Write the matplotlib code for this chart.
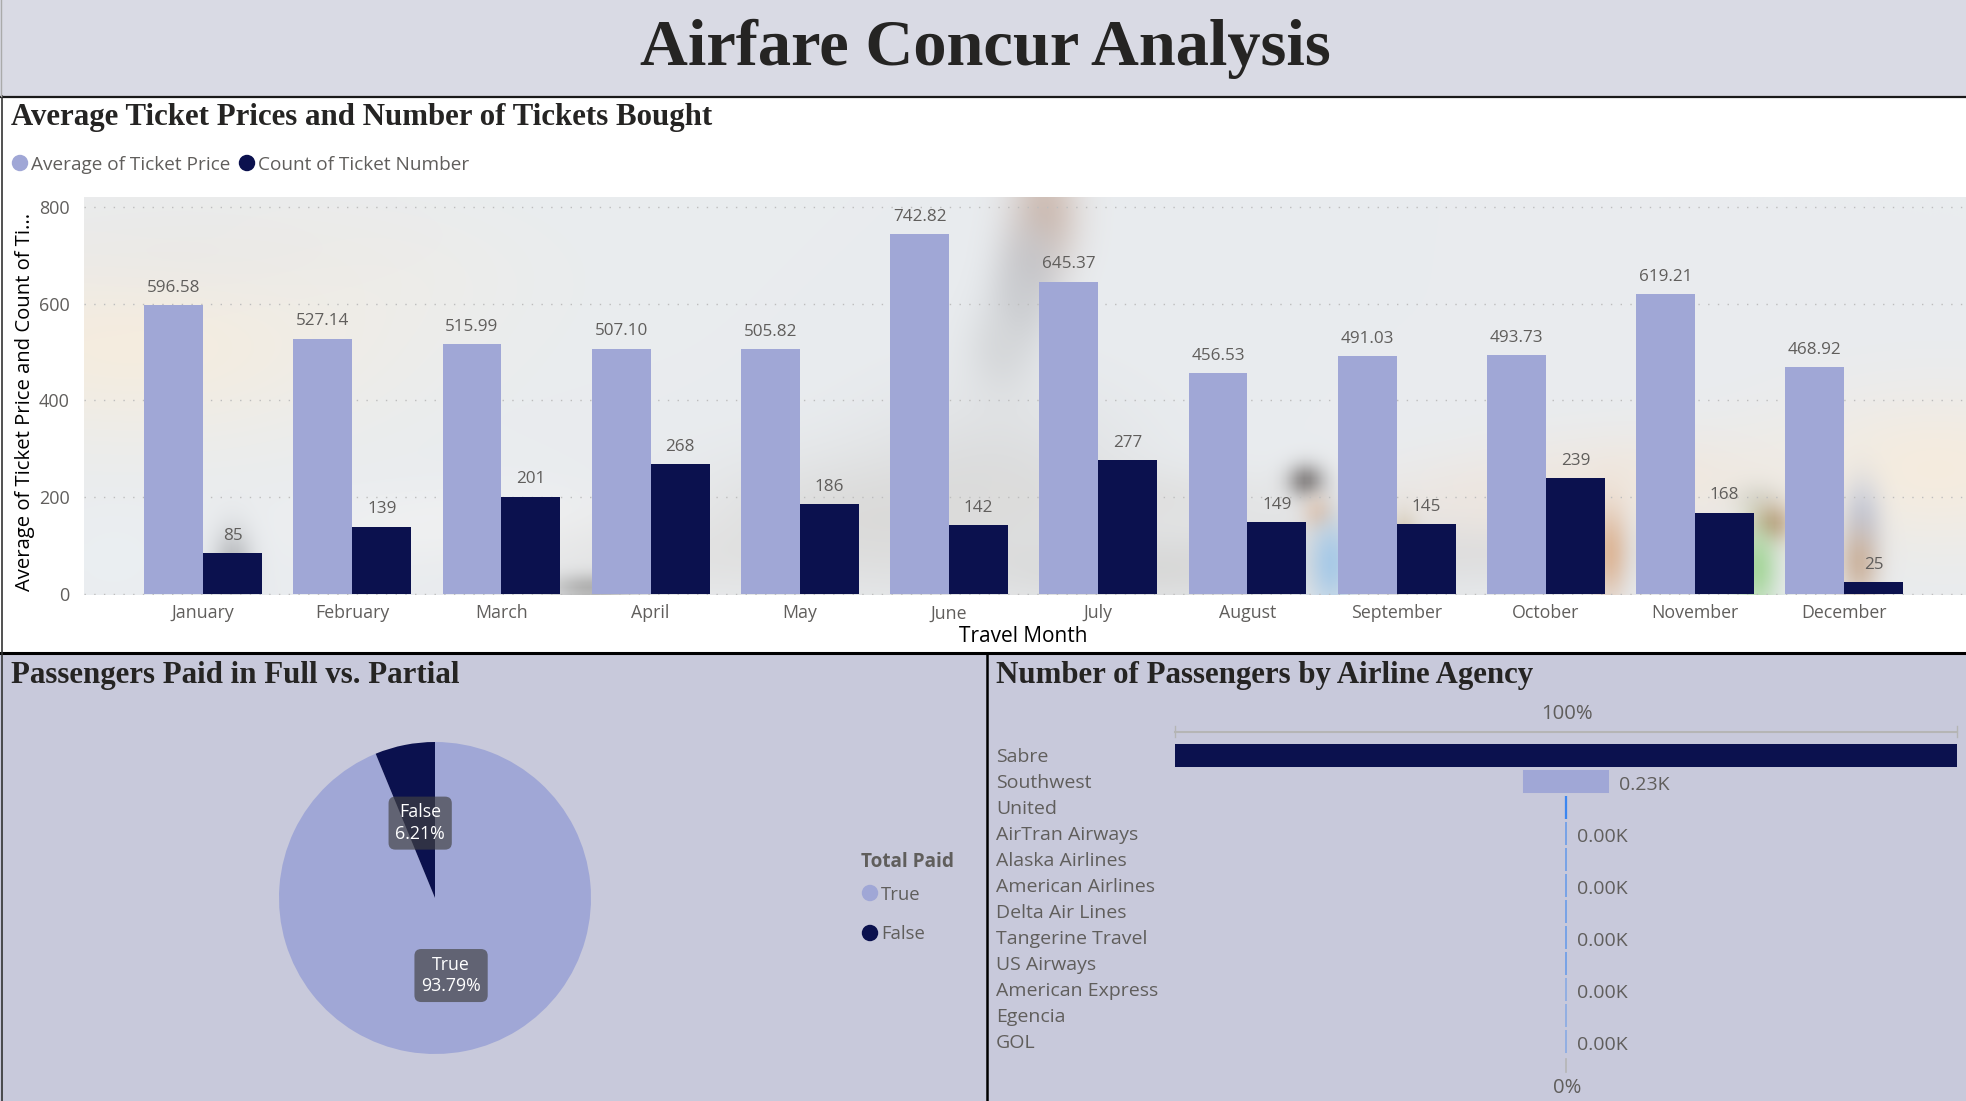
import numpy as np
import matplotlib
matplotlib.use('Agg')
from matplotlib import pyplot as plt
from matplotlib.colors import to_rgb
from matplotlib.patches import Rectangle

W, H = 1966, 1101

months = ['January', 'February', 'March', 'April', 'May', 'June', 'July',
          'August', 'September', 'October', 'November', 'December']
avg_price = [596.58, 527.14, 515.99, 507.10, 505.82, 742.82, 645.37,
             456.53, 491.03, 493.73, 619.21, 468.92]
ticket_count = [85, 139, 201, 268, 186, 142, 277, 149, 145, 239, 168, 25]

paid_labels = ['True', 'False']
paid_share = [93.79, 6.21]

agencies = ['Sabre', 'Southwest', 'United', 'AirTran Airways', 'Alaska Airlines',
            'American Airlines', 'Delta Air Lines', 'Tangerine Travel', 'US Airways',
            'American Express', 'Egencia', 'GOL']
passengers = [2090, 230, 6, 3, 3, 3, 3, 3, 3, 2, 2, 2]
agency_labels = ['', '0.23K', '', '0.00K', '', '0.00K', '', '0.00K', '', '0.00K', '', '0.00K']

LIGHT = '#A0A7D6'
DARK = '#0B114E'
GREY = '#605E5C'
BAND = '#D9DAE4'
PANEL = '#C8C9DB'
INK = '#252423'
SANS = 'Open Sans'
SERIF = 'Liberation Serif'


def axes_px(x0, y0, x1, y1, **kw):
    return fig.add_axes([x0 / W, 1 - y1 / H, (x1 - x0) / W, (y1 - y0) / H], **kw)


def blurred_photo(nx=300, ny=80):
    # rough stand-in for the faded photo behind the bars
    px, py = np.meshgrid(np.linspace(84, 1966, nx), np.linspace(197, 595, ny))
    img = np.ones((ny, nx, 3)) * np.array(to_rgb('#E9ECEF'))
    blobs = [(130, 340, 170, 70, '#F6ECDD', 0.9),
             (330, 270, 130, 50, '#F2EEE6', 0.5),
             (200, 250, 140, 35, '#E6E6E6', 0.4),
             (500, 530, 140, 30, '#F4F4F4', 0.7),
             (680, 560, 130, 30, '#E2E2E2', 0.8),
             (870, 520, 120, 45, '#D9D8D6', 0.8),
             (1000, 470, 90, 60, '#D3D3D3', 0.5),
             (230, 565, 14, 24, '#A5A7AA', 0.7),
             (110, 560, 50, 40, '#ECF0F3', 0.6),
             (590, 590, 30, 10, '#8D8C8A', 0.6),
             (1045, 210, 24, 40, '#CDB9AE', 0.9),
             (1030, 265, 22, 35, '#BFBEC2', 0.7),
             (1018, 305, 20, 35, '#C6C8CC', 0.7),
             (1000, 350, 24, 35, '#D2D4D6', 0.7),
             (1150, 570, 140, 28, '#D7D7D6', 0.9),
             (1100, 500, 120, 22, '#DDDCDA', 0.7),
             (1480, 550, 190, 30, '#D8D8D8', 0.7),
             (1650, 480, 110, 35, '#F1E7DC', 0.8),
             (1940, 470, 110, 55, '#F6ECDD', 0.9),
             (1500, 500, 100, 30, '#EFE4DB', 0.6),
             (1307, 482, 13, 12, '#625D5C', 0.7),
             (1320, 515, 11, 13, '#E4C2A8', 0.8),
             (1332, 565, 15, 32, '#A3C8E8', 0.9),
             (1405, 550, 10, 22, '#C8B48E', 0.7),
             (1612, 555, 12, 32, '#DBA67C', 0.7),
             (1760, 500, 18, 12, '#DAD6CE', 0.8),
             (1775, 525, 14, 14, '#B08A63', 0.7),
             (1760, 570, 14, 30, '#A2D596', 0.9),
             (1865, 520, 14, 28, '#BFC5D6', 0.8),
             (1862, 565, 14, 26, '#C4A386', 0.7)]
    for bx, by, sx, sy, col, amt in blobs:
        w = amt * np.exp(-((px - bx) / sx) ** 2 / 2 - ((py - by) / sy) ** 2 / 2)
        img = img * (1 - w[..., None]) + np.array(to_rgb(col)) * w[..., None]
    return img


fig = plt.figure(figsize=(W / 100, H / 100), dpi=100, facecolor=BAND)

# panels and frame lines, in pixel coordinates
base = fig.add_axes([0, 0, 1, 1], zorder=-1)
base.set_xlim(0, W)
base.set_ylim(H, 0)
base.axis('off')
base.add_patch(Rectangle((0, 96), W, 557, fc='white', ec='none'))
base.add_patch(Rectangle((0, 653), W, H - 653, fc=PANEL, ec='none'))
base.plot([0, W], [96.5, 96.5], color='#1A1A1A', lw=1.6)
base.plot([0, W], [653, 653], color='black', lw=2.2)
base.plot([987, 987], [653, H], color='black', lw=1.8)
base.plot([1.5, 1.5], [96, H], color='#333333', lw=1.2)
base.plot([0.5, 0.5], [0, 96], color='#AAAAAA', lw=1)

base.text(985.5, 49, 'Airfare Concur Analysis', family=SERIF, weight='bold', size=47.8,
          color=INK, ha='center', va='center')
base.text(11, 118, 'Average Ticket Prices and Number of Tickets Bought', family=SERIF,
          weight='bold', size=22.2, color=INK, va='center')
base.text(11, 676, 'Passengers Paid in Full vs. Partial', family=SERIF, weight='bold',
          size=22.2, color=INK, va='center')
base.text(996, 676, 'Number of Passengers by Airline Agency', family=SERIF, weight='bold',
          size=22.25, color=INK, va='center')

# top legend
base.scatter([20, 247], [163, 163], s=140, color=[LIGHT, DARK], linewidths=0)
base.text(31, 165, 'Average of Ticket Price', family=SANS, size=13.7, color=GREY, va='center')
base.text(258, 165, 'Count of Ticket Number', family=SANS, size=13.7, color=GREY, va='center')

# grouped bars
ax = axes_px(84, 197, W, 595)
ax.patch.set_alpha(0)
x = np.arange(len(months))
bar_w = 0.395
ax.imshow(blurred_photo(), extent=(-0.798, 11.816, -2, 820), aspect='auto', zorder=0,
          interpolation='bilinear')
ax.set_axisbelow(True)
ax.yaxis.grid(True, color='#BDBDBD', lw=1, ls=(0, (1, 6)), zorder=1)
b1 = ax.bar(x - bar_w / 2, avg_price, bar_w, color=LIGHT, zorder=2)
b2 = ax.bar(x + bar_w / 2, ticket_count, bar_w, color=DARK, zorder=2)
ax.bar_label(b1, fmt='%.2f', padding=6.7, family=SANS, size=12.3, color=GREY)
ax.bar_label(b2, fmt='%d', padding=6.7, family=SANS, size=12.3, color=GREY)
ax.set_xlim(-0.798, 11.816)
ax.set_ylim(-2, 820)
ax.set_yticks([0, 200, 400, 600, 800])
ax.set_xticks(x)
ax.set_xticklabels(months, family=SANS, size=12.8, color=GREY)
ax.tick_params(axis='x', length=0, pad=6.8, labelcolor=GREY)
ax.tick_params(axis='y', length=0, pad=10.5, labelcolor=GREY)
for lab in ax.get_yticklabels():
    lab.set_family(SANS)
    lab.set_size(13)
for s in ax.spines.values():
    s.set_visible(False)
base.text(1023, 637, 'Travel Month', family=SANS, size=15, color='black', ha='center', va='center')
base.text(25, 402, 'Average of Ticket Price and Count of Ti...', family=SANS, size=14.6, color='black',
          rotation=90, ha='center', va='center')

# pie
pie_ax = axes_px(279, 742, 591, 1054)
pie_ax.pie(paid_share, colors=[LIGHT, DARK], startangle=90, counterclock=False, radius=1)
pie_ax.set_xlim(-1, 1)
pie_ax.set_ylim(-1, 1)
box = dict(boxstyle='round,pad=0.38', fc='#424242', alpha=0.67, ec='none')
pie_ax.text(-0.095, 0.48, 'False\n6.21%', family=SANS, size=12.8, color='white', ha='center',
            va='center', linespacing=1.25, bbox=box)
pie_ax.text(0.103, -0.497, 'True\n93.79%', family=SANS, size=12.8, color='white', ha='center',
            va='center', linespacing=1.25, bbox=box)

# pie legend
base.text(861, 862, 'Total Paid', family=SANS, size=13.7, weight='bold', color=GREY, va='center')
base.scatter([870, 870], [893, 933], s=140, color=[LIGHT, DARK], linewidths=0)
for yy, name in zip([895, 934], paid_labels):
    base.text(881, yy, name, family=SANS, size=13.3, color=GREY, va='center')

# centred funnel bars
fn = axes_px(1175, 742.5, 1957, 1054.5)
fn.patch.set_alpha(0)
rows = np.arange(len(agencies))
vals = np.array(passengers)
colors = [DARK, LIGHT] + ['#3C86F0'] * (len(agencies) - 2)
for patch in fn.barh(rows, vals, height=0.885, left=-vals / 2, color=colors):
    patch.set_snap(False)
fn.set_xlim(-1045, 1045)
fn.set_ylim(11.5, -0.5)
fn.axis('off')
for r, v, txt in zip(rows, vals, agency_labels):
    if txt:
        fn.annotate(txt, (v / 2, r), xytext=(7.5, -2.6), textcoords='offset points', family=SANS,
                    size=14, color=GREY, va='center', annotation_clip=False)
for r, name in zip(rows, agencies):
    base.text(996, 756.5 + 26 * r, name, family=SANS, size=14, color=GREY, va='center')

base.plot([1175, 1957], [732, 732], color='#B5B5B5', lw=1.5)
base.plot([1175, 1175], [726, 737], color='#B5B5B5', lw=1)
base.plot([1957, 1957], [726, 737], color='#B5B5B5', lw=1)
base.plot([1566, 1566], [1059, 1072], color='#B5B5B5', lw=1.2)
base.text(1567, 714, '100%', family=SANS, size=14.6, color=GREY, ha='center', va='center')
base.text(1567, 1088, '0%', family=SANS, size=14.6, color=GREY, ha='center', va='center')

fig.savefig('out.png', dpi=100, facecolor=fig.get_facecolor())
